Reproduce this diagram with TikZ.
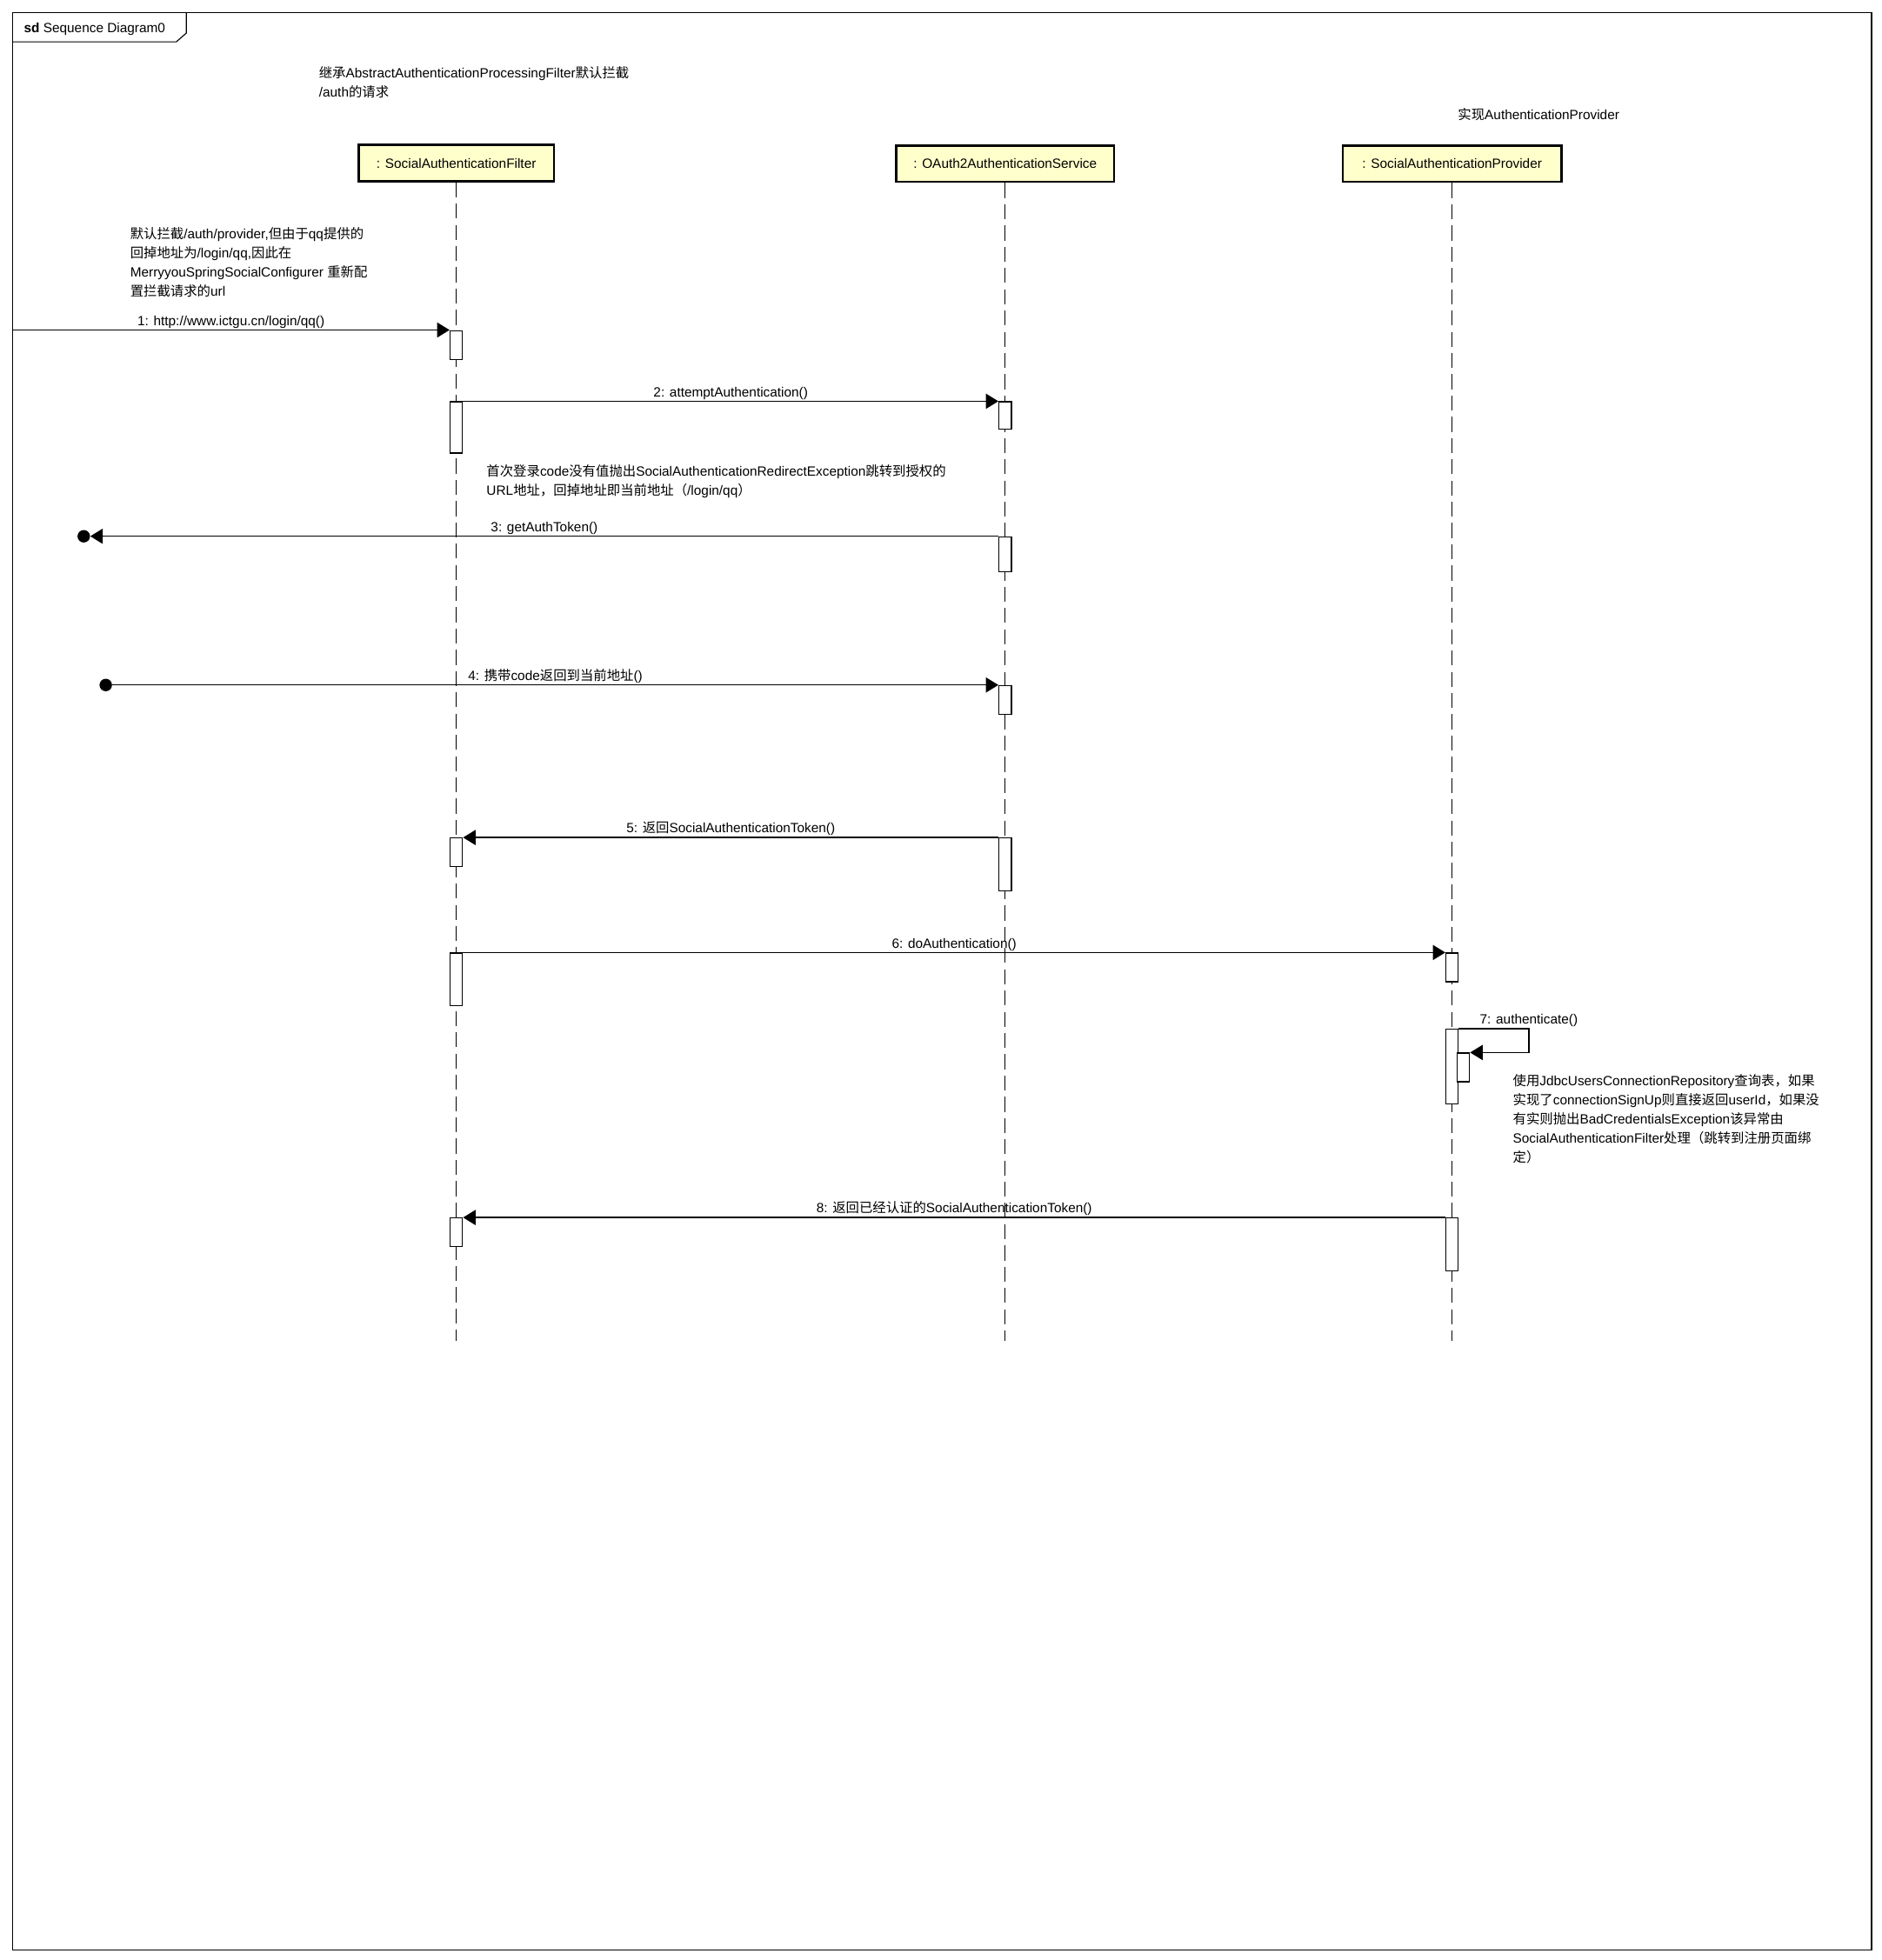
\documentclass[tikz,border=0pt]{standalone}
\usepackage{fontspec}
\setmainfont{Liberation Sans}
\newfontfamily\cjk{Noto Sans CJK SC}
\newcommand{\zh}[1]{{\cjk #1}}
\usetikzlibrary{arrows.meta}
\definecolor{headfill}{RGB}{255,255,204}
\tikzset{
	>={Triangle[length=10pt,width=12pt]},
	every node/.style={font=\fontsize{10.7}{15.3}\selectfont},
	head/.style={draw, line width=1.8pt, fill=headfill, minimum height=29pt, inner sep=0pt},
	act/.style={draw, line width=0.8pt, fill=white, minimum width=10pt, inner sep=0pt, anchor=north},
	lifeline/.style={line width=0.8pt, dash pattern=on 12pt off 5pt},
	msg/.style={->, line width=1pt},
	lbl/.style={above, inner sep=1pt},
	note/.style={align=left, anchor=base west, inner sep=0pt},
	enddot/.style={circle, fill, minimum size=10pt, inner sep=0pt}
}

\begin{document}
\begin{tikzpicture}[x=1pt, y=-1pt]
	\useasboundingbox (0,0) rectangle (1505,1568);
	\draw[line width=0.8pt] (10,10) rectangle (1497,1560);
	\draw[line width=0.8pt] (10,33.5) -- (141,33.5) -- (149,26.5) -- (149,10);
	\node[anchor=west, inner sep=0pt] (title) at (19,23) {\textbf{sd} Sequence Diagram0};

	\node[head, minimum width=156pt] (filter) at (365,130.5) {: SocialAuthenticationFilter};
	\node[head, minimum width=174pt] (service) at (804,131) {: OAuth2AuthenticationService};
	\node[head, minimum width=175pt] (provider) at (1161.5,131) {: SocialAuthenticationProvider};

	\coordinate (bottom) at (0,1073);
	\foreach \l in {filter, service, provider}
		\draw[lifeline] (\l.south) -- (\l.south |- bottom);

	% notes are placed by the baseline of their last line
	\node[note] (extnote) at (255,77.3) {\zh{继承}AbstractAuthenticationProcessingFilter\zh{默认拦截}\\/auth\zh{的请求}};
	\node[note] (implnote) at (1166,96) {\zh{实现}AuthenticationProvider};
	\node[note] (urlnote) at (104,237) {\zh{默认拦截}/auth/provider,\zh{但由于}qq\zh{提供的}\\
		\zh{回掉地址为}/login/qq,\zh{因此在}\\
		MerryyouSpringSocialConfigurer \zh{重新配}\\
		\zh{置拦截请求的}url};
	\node[note] (codenote) at (389,396.3) {\zh{首次登录}code\zh{没有值抛出}SocialAuthenticationRedirectException\zh{跳转到授权的}\\
		URL\zh{地址，回掉地址即当前地址（}/login/qq\zh{）}};
	\node[note] (usernote) at (1210,930) {\zh{使用}JdbcUsersConnectionRepository\zh{查询表，如果}\\
		\zh{实现了}connectionSignUp\zh{则直接返回}userId\zh{，如果没}\\
		\zh{有实则抛出}BadCredentialsException\zh{该异常由}\\
		SocialAuthenticationFilter\zh{处理（跳转到注册页面绑}\\
		\zh{定）}};

	\foreach \nm/\x/\y/\h in {f1/365/264/23, f2/365/321/41, f3/365/670/23, f4/365/762/42, f5/365/974/23,
		s2/804/321/22, s3/804/429/28, s4/804/548/23, s5/804/670/42,
		p1/1161.5/762/23, p2/1161.5/823/60, p3/1170.5/842/23, p4/1161.5/974/42}
		\node[act, minimum height=\h pt] (\nm) at (\x,\y) {};

	\coordinate (entry) at (10,264);
	\node[enddot] (lost) at (67,429) {};
	\node[enddot] (found) at (84.6,548) {};

	\draw[msg] (entry) -- node[lbl] {1: http://www.ictgu.cn/login/qq()} (f1.north west);
	\draw[msg] (f2.north east) -- node[lbl] {2: attemptAuthentication()} (s2.north west);
	\draw[msg] (s3.north west) -- node[lbl] {3: getAuthToken()} (lost.east);
	\draw[msg] (found) -- node[lbl] {4: \zh{携带}code\zh{返回到当前地址}()} (s4.north west);
	\draw[msg] (s5.north west) -- node[lbl] {5: \zh{返回}SocialAuthenticationToken()} (f3.north east);
	\draw[msg] (f4.north east) -- node[lbl] {6: doAuthentication()} (p1.north west);
	\draw[msg] (p2.north east) -- ++(56,0) node[lbl] {7: authenticate()} |- (p3.north east);
	\draw[msg] (p4.north west) -- node[lbl] {8: \zh{返回已经认证的}SocialAuthenticationToken()} (f5.north east);
\end{tikzpicture}
\end{document}
